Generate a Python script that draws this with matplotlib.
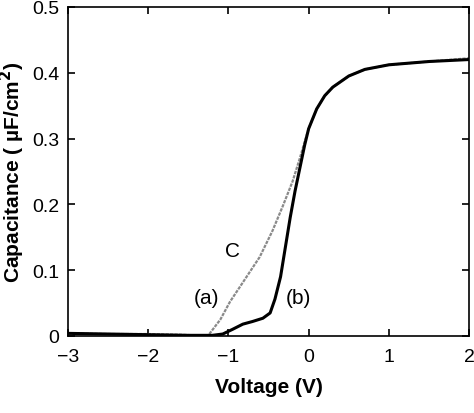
import matplotlib
matplotlib.use("Agg")
import matplotlib.pyplot as plt
import numpy as np

plt.rcParams['font.family'] = ['Liberation Sans', 'DejaVu Sans']

xa = [-3.0, -2.5, -2.0, -1.6, -1.4, -1.25, -1.1, -0.98, -0.8, -0.61, -0.45, -0.32, -0.2, -0.11, -0.05, 0.0, 0.1, 0.2, 0.3, 0.5, 0.7, 1.0, 1.5, 2.0]
ya = [0.004, 0.003, 0.003, 0.002, 0.001, 0.001, 0.025, 0.052, 0.085, 0.12, 0.16, 0.198, 0.235, 0.27, 0.295, 0.315, 0.345, 0.365, 0.378, 0.395, 0.405, 0.412, 0.417, 0.422]
xb = [-3.0, -2.5, -2.0, -1.5, -1.2, -1.07, -0.95, -0.82, -0.7, -0.57, -0.48, -0.42, -0.35, -0.29, -0.23, -0.17, -0.11, -0.05, 0.0, 0.1, 0.2, 0.3, 0.5, 0.7, 1.0, 1.5, 2.0]
yb = [0.004, 0.003, 0.002, 0.001, 0.001, 0.003, 0.01, 0.018, 0.022, 0.027, 0.035, 0.056, 0.09, 0.135, 0.18, 0.22, 0.255, 0.29, 0.315, 0.345, 0.365, 0.378, 0.395, 0.405, 0.412, 0.417, 0.42]

fig = plt.figure(figsize=(4.74, 4.14), dpi=100)
ax = fig.add_axes([0.143, 0.186, 0.847, 0.795])
ax.plot(xa, ya, color='#8a8a8a', lw=1.6, ls=(0, (1.5, 0.5)))
ax.plot(xb, yb, color='black', lw=2.2)
ax.set_xlim(-3, 2)
ax.set_ylim(0, 0.5)
ax.set_xticks([-3, -2, -1, 0, 1, 2])
ax.set_yticks([0, 0.1, 0.2, 0.3, 0.4, 0.5])
ax.set_yticklabels(['0', '0.1', '0.2', '0.3', '0.4', '0.5'])
ax.tick_params(direction='in', labelsize=14, length=5, width=1.2, top=True, right=True)
ax.tick_params(axis='x', pad=9)
ax.tick_params(axis='y', pad=6)
for s in ax.spines.values():
    s.set_linewidth(1.2)
ax.set_xlabel('Voltage (V)', fontsize=15, fontweight='bold', labelpad=8)
ax.set_ylabel('Capacitance ( µF/cm$^\\mathbf{2}$)', fontsize=15, fontweight='bold')
ax.text(-0.95, 0.13, 'C', fontsize=15, ha='center', va='center')
ax.text(-1.27, 0.058, '(a)', fontsize=15, ha='center', va='center')
ax.text(-0.13, 0.058, '(b)', fontsize=15, ha='center', va='center')
fig.savefig('out.png', dpi=100)
